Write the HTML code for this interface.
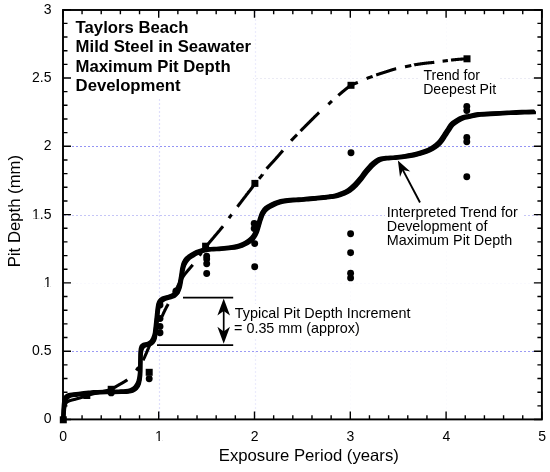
<!DOCTYPE html>
<html><head><meta charset="utf-8"><style>
html,body{margin:0;padding:0;background:#fff;}
svg{display:block;}
.tl{font-family:"Liberation Sans",Arial,sans-serif;font-size:14px;fill:#000;}
.al{font-family:"Liberation Sans",Arial,sans-serif;font-size:16.72px;fill:#000;}
.ti{font-family:"Liberation Sans",Arial,sans-serif;font-size:16.72px;font-weight:bold;fill:#000;}
.an{font-family:"Liberation Sans",Arial,sans-serif;font-size:14.1px;fill:#000;}
.an2{font-family:"Liberation Sans",Arial,sans-serif;font-size:14.1px;fill:#000;}
</style></head><body>
<svg width="550" height="472" viewBox="0 0 550 472">
<rect width="550" height="472" fill="#fff"/>
<line x1="64.0" y1="351.5" x2="540.9" y2="351.5" stroke="#7070f0" stroke-opacity="0.7" stroke-width="1.2" stroke-dasharray="2 2"/>
<line x1="64.0" y1="283.5" x2="540.9" y2="283.5" stroke="#8080ee" stroke-opacity="0.05" stroke-width="1.2" stroke-dasharray="2 2"/>
<line x1="64.0" y1="215.5" x2="540.9" y2="215.5" stroke="#8080ee" stroke-opacity="0.45" stroke-width="1.2" stroke-dasharray="2 2"/>
<line x1="64.0" y1="146.5" x2="540.9" y2="146.5" stroke="#7070f0" stroke-opacity="0.75" stroke-width="1.2" stroke-dasharray="2 2"/>
<line x1="64.0" y1="78.5" x2="540.9" y2="78.5" stroke="#9090c0" stroke-opacity="0.18" stroke-width="1.2" stroke-dasharray="2 2"/>
<line x1="159.5" y1="11.0" x2="159.5" y2="418.4" stroke="#8080ee" stroke-opacity="0.25" stroke-width="1.2" stroke-dasharray="2 2"/>
<line x1="255.5" y1="11.0" x2="255.5" y2="418.4" stroke="#8080ee" stroke-opacity="0.15" stroke-width="1.2" stroke-dasharray="2 2"/>
<line x1="350.5" y1="11.0" x2="350.5" y2="418.4" stroke="#8080ee" stroke-opacity="0.03" stroke-width="1.2" stroke-dasharray="2 2"/>
<line x1="446.5" y1="11.0" x2="446.5" y2="418.4" stroke="#8080ee" stroke-opacity="0.03" stroke-width="1.2" stroke-dasharray="2 2"/>
<rect x="72" y="14" width="181" height="83" fill="#fff"/>
<rect x="420" y="66" width="79" height="33" fill="#fff"/>
<rect x="385" y="204" width="137" height="46" fill="#fff"/>
<rect x="233" y="304" width="180" height="33" fill="#fff"/>
<path d="M63.0,419.50h8M541.9,419.50h-8M63.0,405.84h4.5M541.9,405.84h-4.5M63.0,392.18h4.5M541.9,392.18h-4.5M63.0,378.52h4.5M541.9,378.52h-4.5M63.0,364.86h4.5M541.9,364.86h-4.5M63.0,351.20h8M541.9,351.20h-8M63.0,337.54h4.5M541.9,337.54h-4.5M63.0,323.88h4.5M541.9,323.88h-4.5M63.0,310.22h4.5M541.9,310.22h-4.5M63.0,296.56h4.5M541.9,296.56h-4.5M63.0,282.90h8M541.9,282.90h-8M63.0,269.24h4.5M541.9,269.24h-4.5M63.0,255.58h4.5M541.9,255.58h-4.5M63.0,241.92h4.5M541.9,241.92h-4.5M63.0,228.26h4.5M541.9,228.26h-4.5M63.0,214.60h8M541.9,214.60h-8M63.0,200.94h4.5M541.9,200.94h-4.5M63.0,187.28h4.5M541.9,187.28h-4.5M63.0,173.62h4.5M541.9,173.62h-4.5M63.0,159.96h4.5M541.9,159.96h-4.5M63.0,146.30h8M541.9,146.30h-8M63.0,132.64h4.5M541.9,132.64h-4.5M63.0,118.98h4.5M541.9,118.98h-4.5M63.0,105.32h4.5M541.9,105.32h-4.5M63.0,91.66h4.5M541.9,91.66h-4.5M63.0,78.00h8M541.9,78.00h-8M63.0,64.34h4.5M541.9,64.34h-4.5M63.0,50.68h4.5M541.9,50.68h-4.5M63.0,37.02h4.5M541.9,37.02h-4.5M63.0,23.36h4.5M541.9,23.36h-4.5M63.0,9.70h8M541.9,9.70h-8M62.90,419.4v-7.8M62.90,10.0v7.8M82.06,419.4v-4.2M82.06,10.0v4.2M101.22,419.4v-4.2M101.22,10.0v4.2M120.38,419.4v-4.2M120.38,10.0v4.2M139.54,419.4v-4.2M139.54,10.0v4.2M158.70,419.4v-7.8M158.70,10.0v7.8M177.86,419.4v-4.2M177.86,10.0v4.2M197.02,419.4v-4.2M197.02,10.0v4.2M216.18,419.4v-4.2M216.18,10.0v4.2M235.34,419.4v-4.2M235.34,10.0v4.2M254.50,419.4v-7.8M254.50,10.0v7.8M273.66,419.4v-4.2M273.66,10.0v4.2M292.82,419.4v-4.2M292.82,10.0v4.2M311.98,419.4v-4.2M311.98,10.0v4.2M331.14,419.4v-4.2M331.14,10.0v4.2M350.30,419.4v-7.8M350.30,10.0v7.8M369.46,419.4v-4.2M369.46,10.0v4.2M388.62,419.4v-4.2M388.62,10.0v4.2M407.78,419.4v-4.2M407.78,10.0v4.2M426.94,419.4v-4.2M426.94,10.0v4.2M446.10,419.4v-7.8M446.10,10.0v7.8M465.26,419.4v-4.2M465.26,10.0v4.2M484.42,419.4v-4.2M484.42,10.0v4.2M503.58,419.4v-4.2M503.58,10.0v4.2M522.74,419.4v-4.2M522.74,10.0v4.2M541.90,419.4v-7.8M541.90,10.0v7.8" stroke="#000" stroke-width="1.4" fill="none"/>
<rect x="63.0" y="10.0" width="478.90" height="409.40" fill="none" stroke="#000" stroke-width="1.9"/>
<text x="51.5" y="423.40" text-anchor="end" class="tl">0</text>
<text x="51.5" y="355.10" text-anchor="end" class="tl">0.5</text>
<text x="51.5" y="286.80" text-anchor="end" class="tl">1</text>
<text x="51.5" y="218.50" text-anchor="end" class="tl">1.5</text>
<text x="51.5" y="150.20" text-anchor="end" class="tl">2</text>
<text x="51.5" y="81.90" text-anchor="end" class="tl">2.5</text>
<text x="51.5" y="13.60" text-anchor="end" class="tl">3</text>
<text x="63.10" y="440.9" text-anchor="middle" class="tl">0</text>
<text x="158.90" y="440.9" text-anchor="middle" class="tl">1</text>
<text x="254.70" y="440.9" text-anchor="middle" class="tl">2</text>
<text x="350.50" y="440.9" text-anchor="middle" class="tl">3</text>
<text x="446.30" y="440.9" text-anchor="middle" class="tl">4</text>
<text x="542.10" y="440.9" text-anchor="middle" class="tl">5</text>
<rect x="44.74" y="285.71" width="2.47" height="1.37" fill="#fff"/><rect x="48.50" y="285.71" width="2.36" height="1.37" fill="#fff"/>
<rect x="33.06" y="217.41" width="2.47" height="1.37" fill="#fff"/><rect x="36.82" y="217.41" width="2.36" height="1.37" fill="#fff"/>
<rect x="156.03" y="439.81" width="2.47" height="1.37" fill="#fff"/><rect x="159.79" y="439.81" width="2.36" height="1.37" fill="#fff"/>
<text x="308.8" y="461.3" text-anchor="middle" class="al">Exposure Period (years)</text>
<text transform="translate(19.5,211.1) rotate(-90)" text-anchor="middle" class="al">Pit Depth (mm)</text>
<text x="75.6" y="32.80" class="ti">Taylors Beach</text>
<text x="75.6" y="52.15" class="ti">Mild Steel in Seawater</text>
<text x="75.6" y="71.50" class="ti">Maximum Pit Depth</text>
<text x="75.6" y="90.85" class="ti">Development</text>
<text x="423.4" y="80.2" class="an">Trend for</text>
<text x="423.2" y="94.2" class="an">Deepest Pit</text>
<text transform="translate(386.8,217.1) scale(1.02,1)" class="an2">Interpreted Trend for</text>
<text transform="translate(386.8,231.1) scale(1.02,1)" class="an2">Development of</text>
<text transform="translate(386.8,245.1) scale(1.02,1)" class="an2">Maximum Pit Depth</text>
<text transform="translate(234.8,318.1) scale(1.02,1)" class="an2">Typical Pit Depth Increment</text>
<text transform="translate(234.0,333.1) scale(1.02,1)" class="an2">= 0.35 mm (approx)</text>
<path d="M63.30,419.60L63.31,419.52L63.32,419.43L63.33,419.33L63.34,419.23L63.35,419.12L63.36,419.01L63.37,418.89L63.38,418.76L63.40,418.63L63.41,418.50L63.42,418.36L63.44,418.21L63.45,418.06L63.47,417.91L63.48,417.76L63.50,417.60L63.51,417.43L63.53,417.26L63.55,417.10L63.56,416.92L63.58,416.75L63.60,416.57L63.61,416.39L63.63,416.21L63.65,416.02L63.67,415.84L63.69,415.65L63.71,415.46L63.72,415.27L63.74,415.08L63.76,414.89L63.78,414.70L63.80,414.51L63.82,414.32L63.84,414.12L63.86,413.93L63.88,413.74L63.90,413.55L63.92,413.37L63.94,413.18L63.96,412.99L63.98,412.81L64.00,412.63L64.01,412.44L64.03,412.27L64.05,412.09L64.07,411.92L64.09,411.75L64.11,411.58L64.13,411.42L64.15,411.26L64.16,411.10L64.18,410.95L64.20,410.80L64.22,410.65L64.23,410.51L64.25,410.38L64.27,410.25L64.28,410.12L64.30,410.00L64.32,409.88L64.33,409.77L64.35,409.66L64.36,409.55L64.38,409.44L64.39,409.34L64.41,409.23L64.42,409.13L64.44,409.04L64.45,408.94L64.46,408.84L64.48,408.75L64.49,408.66L64.51,408.57L64.52,408.48L64.53,408.40L64.55,408.31L64.56,408.23L64.58,408.15L64.59,408.07L64.60,407.99L64.62,407.92L64.63,407.84L64.64,407.77L64.66,407.69L64.67,407.62L64.68,407.55L64.70,407.48L64.71,407.41L64.72,407.34L64.74,407.28L64.75,407.21L64.77,407.15L64.78,407.08L64.79,407.02L64.81,406.95L64.82,406.89L64.84,406.83L64.85,406.77L64.87,406.71L64.88,406.65L64.90,406.59L64.91,406.53L64.93,406.47L64.94,406.41L64.96,406.35L64.97,406.29L64.99,406.23L65.01,406.17L65.02,406.11L65.04,406.05L65.06,405.99L65.07,405.93L65.09,405.87L65.11,405.81L65.13,405.75L65.14,405.69L65.16,405.63L65.18,405.56L65.20,405.50L65.22,405.44L65.24,405.37L65.26,405.31L65.27,405.25L65.29,405.19L65.31,405.13L65.33,405.07L65.35,405.01L65.36,404.95L65.38,404.89L65.40,404.83L65.42,404.77L65.43,404.71L65.45,404.65L65.47,404.60L65.49,404.54L65.50,404.48L65.52,404.43L65.54,404.37L65.56,404.31L65.57,404.26L65.59,404.21L65.61,404.15L65.63,404.10L65.65,404.04L65.67,403.99L65.68,403.94L65.70,403.88L65.72,403.83L65.74,403.78L65.76,403.73L65.78,403.68L65.81,403.63L65.83,403.58L65.85,403.53L65.87,403.48L65.89,403.43L65.92,403.38L65.94,403.33L65.97,403.29L65.99,403.24L66.02,403.19L66.04,403.14L66.07,403.10L66.10,403.05L66.13,403.00L66.15,402.96L66.18,402.91L66.21,402.87L66.25,402.83L66.28,402.78L66.31,402.74L66.34,402.69L66.38,402.65L66.41,402.61L66.45,402.57L66.48,402.52L66.52,402.48L66.56,402.44L66.60,402.40L66.64,402.36L66.68,402.32L66.72,402.28L66.77,402.24L66.81,402.20L66.85,402.17L66.90,402.13L66.94,402.09L66.99,402.05L67.03,402.02L67.08,401.98L67.13,401.95L67.17,401.91L67.22,401.88L67.27,401.85L67.32,401.81L67.37,401.78L67.42,401.75L67.47,401.72L67.53,401.69L67.58,401.65L67.63,401.62L67.69,401.59L67.74,401.56L67.79,401.53L67.85,401.50L67.90,401.47L67.96,401.44L68.02,401.42L68.07,401.39L68.13,401.36L68.19,401.33L68.25,401.30L68.31,401.28L68.37,401.25L68.43,401.22L68.49,401.19L68.55,401.17L68.61,401.14L68.67,401.11L68.74,401.09L68.80,401.06L68.86,401.04L68.93,401.01L68.99,400.98L69.06,400.96L69.12,400.93L69.19,400.91L69.25,400.88L69.32,400.86L69.38,400.83L69.45,400.80L69.52,400.78L69.59,400.75L69.65,400.73L69.72,400.70L69.79,400.68L69.86,400.65L69.93,400.63L70.00,400.60L70.07,400.57L70.14,400.55L70.21,400.52L70.29,400.50L70.36,400.47L70.44,400.45L70.51,400.43L70.59,400.40L70.66,400.38L70.74,400.36L70.82,400.33L70.90,400.31L70.98,400.29L71.06,400.26L71.14,400.24L71.22,400.22L71.30,400.20L71.38,400.18L71.47,400.15L71.55,400.13L71.63,400.11L71.72,400.09L71.80,400.07L71.88,400.05L71.97,400.03L72.06,400.01L72.14,399.99L72.23,399.97L72.31,399.95L72.40,399.93L72.49,399.90L72.57,399.88L72.66,399.86L72.75,399.84L72.84,399.82L72.92,399.80L73.01,399.78L73.10,399.76L73.19,399.74L73.27,399.72L73.36,399.70L73.45,399.68L73.54,399.66L73.62,399.64L73.71,399.62L73.80,399.60L73.89,399.58L73.97,399.56L74.06,399.54L74.15,399.52L74.23,399.50L74.32,399.47L74.41,399.45L74.49,399.43L74.58,399.41L74.66,399.39L74.75,399.37L74.83,399.34L74.92,399.32L75.00,399.30L75.08,399.28L75.17,399.25L75.25,399.23L75.34,399.21L75.42,399.19L75.50,399.16L75.59,399.14L75.67,399.12L75.76,399.09L75.84,399.07L75.93,399.05L76.02,399.02L76.10,399.00L76.19,398.98L76.27,398.95L76.36,398.93L76.45,398.91L76.53,398.88L76.62,398.86L76.70,398.84L76.79,398.81L76.88,398.79L76.96,398.77L77.05,398.74L77.13,398.72L77.22,398.69L77.31,398.67L77.39,398.65L77.48,398.62L77.56,398.60L77.65,398.58L77.73,398.55L77.82,398.53L77.90,398.51L77.99,398.48L78.07,398.46L78.16,398.43L78.24,398.41L78.32,398.39L78.41,398.36L78.49,398.34L78.57,398.32L78.66,398.29L78.74,398.27L78.82,398.25L78.90,398.22L78.98,398.20L79.06,398.18L79.14,398.15L79.22,398.13L79.30,398.11L79.38,398.08L79.46,398.06L79.54,398.04L79.62,398.01L79.70,397.99L79.77,397.97L79.85,397.95L79.92,397.92L80.00,397.90L80.07,397.88L80.15,397.86L80.22,397.83L80.30,397.81L80.37,397.79L80.45,397.77L80.52,397.74L80.59,397.72L80.67,397.70L80.74,397.68L80.81,397.65L80.88,397.63L80.96,397.61L81.03,397.59L81.10,397.56L81.17,397.54L81.24,397.52L81.31,397.50L81.38,397.47L81.45,397.45L81.52,397.43L81.59,397.41L81.66,397.39L81.73,397.36L81.80,397.34L81.87,397.32L81.93,397.30L82.00,397.28L82.07,397.25L82.14,397.23L82.20,397.21L82.27,397.19L82.34,397.17L82.40,397.14L82.47,397.12L82.53,397.10L82.60,397.08L82.66,397.06L82.73,397.04L82.79,397.01L82.86,396.99L82.92,396.97L82.98,396.95L83.05,396.93L83.11,396.91L83.17,396.89L83.23,396.87L83.29,396.85L83.35,396.82L83.41,396.80L83.47,396.78L83.53,396.76L83.59,396.74L83.65,396.72L83.71,396.70L83.77,396.68L83.83,396.66L83.89,396.64L83.94,396.62L84.00,396.60L84.06,396.58L84.11,396.56L84.16,396.54L84.21,396.52L84.26,396.50L84.30,396.49L84.35,396.47L84.39,396.45L84.43,396.43L84.47,396.42L84.51,396.40L84.55,396.38L84.59,396.37L84.62,396.35L84.66,396.33L84.69,396.32L84.73,396.30L84.76,396.29L84.79,396.27L84.82,396.26L84.85,396.24L84.89,396.22L84.92,396.21L84.95,396.19L84.98,396.18L85.01,396.16L85.04,396.15L85.07,396.13L85.10,396.12L85.14,396.10L85.17,396.08L85.20,396.07L85.24,396.05L85.27,396.04L85.31,396.02L85.35,396.00L85.39,395.99L85.43,395.97L85.47,395.95L85.51,395.93L85.56,395.92L85.60,395.90L85.65,395.88L85.70,395.86L85.75,395.84L85.80,395.82L85.86,395.80L85.91,395.78L85.97,395.76L86.03,395.74L86.10,395.72L86.17,395.70L86.23,395.67L86.31,395.65L86.38,395.63L86.46,395.60L86.54,395.58L86.62,395.55L86.71,395.53L86.80,395.50L86.89,395.47L86.99,395.45L87.00,395.44M87.00,395.44L87.09,395.42L87.19,395.39L87.29,395.36L87.40,395.33L87.51,395.30L87.62,395.27L87.74,395.24L87.86,395.21L87.98,395.17L88.10,395.14L88.22,395.11L88.35,395.07L88.47,395.04L88.60,395.01L88.74,394.97L88.87,394.94L89.00,394.90L89.14,394.87L89.28,394.83L89.42,394.80L89.56,394.76L89.70,394.72L89.84,394.69L89.99,394.65L90.13,394.61L90.28,394.57L90.43,394.54L90.57,394.50L90.72,394.46L90.87,394.42L91.02,394.39L91.17,394.35L91.32,394.31L91.48,394.27L91.63,394.24L91.78,394.20L91.93,394.16L92.08,394.12L92.23,394.08L92.38,394.05L92.54,394.01L92.69,393.97L92.84,393.93L92.99,393.90L93.14,393.86L93.29,393.82L93.43,393.79L93.58,393.75L93.73,393.71L93.88,393.68L94.02,393.64L94.16,393.61L94.31,393.57L94.45,393.54L94.59,393.50L94.73,393.47L94.86,393.43L95.00,393.40L95.13,393.37L95.27,393.33L95.40,393.30L95.54,393.27L95.67,393.24L95.81,393.20L95.94,393.17L96.08,393.14L96.21,393.11L96.34,393.08L96.48,393.04L96.61,393.01L96.75,392.98L96.88,392.95L97.01,392.92L97.15,392.89L97.28,392.86L97.41,392.82L97.55,392.79L97.68,392.76L97.81,392.73L97.95,392.70L98.08,392.67L98.21,392.64L98.35,392.61L98.48,392.58L98.61,392.55L98.75,392.52L98.88,392.49L99.01,392.46L99.15,392.43L99.28,392.39L99.41,392.36L99.54,392.33L99.68,392.30L99.81,392.27L99.94,392.24L100.08,392.21L100.21,392.18L100.34,392.15L100.47,392.12L100.61,392.09L100.74,392.05L100.87,392.02L101.00,391.99L101.14,391.96L101.27,391.93L101.40,391.90L101.54,391.86L101.67,391.83L101.80,391.80L101.93,391.77L102.07,391.73L102.20,391.70L102.33,391.67L102.47,391.63L102.60,391.60L102.73,391.57L102.87,391.53L103.00,391.50L103.13,391.47L103.27,391.43L103.40,391.40L103.53,391.37L103.67,391.33L103.80,391.30L103.93,391.27L104.07,391.24L104.20,391.21L104.33,391.18L104.47,391.15L104.60,391.12L104.73,391.09L104.87,391.06L105.00,391.02L105.13,390.99L105.27,390.96L105.40,390.93L105.53,390.90L105.67,390.87L105.80,390.84L105.93,390.81L106.07,390.78L106.20,390.75L106.33,390.72L106.47,390.69L106.60,390.66L106.73,390.63L106.87,390.59L107.00,390.56L107.13,390.53L107.27,390.50L107.40,390.46L107.53,390.43L107.67,390.39L107.80,390.36L107.93,390.32L108.07,390.29L108.20,390.25L108.33,390.21L108.47,390.18L108.60,390.14L108.73,390.10L108.87,390.06L109.00,390.02L109.13,389.98L109.27,389.94L109.40,389.89L109.53,389.85L109.67,389.80L109.80,389.76L109.93,389.71L110.07,389.66L110.20,389.61L110.33,389.56L110.47,389.51L110.60,389.46L110.73,389.41L110.87,389.36L111.00,389.30M111.00,389.30L111.13,389.24L111.27,389.19L111.40,389.13L111.53,389.07L111.67,389.01L111.80,388.95L111.93,388.88L112.06,388.82L112.20,388.75L112.33,388.69L112.46,388.62L112.60,388.56L112.73,388.49L112.86,388.42L112.99,388.35L113.13,388.28L113.26,388.21L113.39,388.13L113.52,388.06L113.66,387.99L113.79,387.91L113.92,387.84L114.05,387.77L114.19,387.69L114.32,387.61L114.45,387.54L114.58,387.46L114.72,387.38L114.85,387.30L114.98,387.23L115.11,387.15L115.25,387.07L115.38,386.99L115.51,386.91L115.65,386.83L115.78,386.75L115.91,386.67L116.04,386.58L116.18,386.50L116.31,386.42L116.44,386.34L116.58,386.26L116.71,386.18L116.85,386.10L116.98,386.01L117.11,385.93L117.25,385.85L117.38,385.77L117.51,385.69L117.65,385.61L117.78,385.52L117.92,385.44L118.05,385.36L118.19,385.28L118.32,385.20L118.46,385.12L118.59,385.04L118.73,384.96L118.86,384.88L119.00,384.80L119.14,384.72L119.27,384.64L119.41,384.56L119.55,384.48L119.69,384.40L119.83,384.32L119.97,384.24L120.12,384.16L120.26,384.08L120.40,384.00L120.55,383.92L120.69,383.84L120.84,383.75L120.98,383.67L121.13,383.59L121.27,383.51L121.42,383.43L121.57,383.34L121.71,383.26L121.86,383.18L122.01,383.09L122.15,383.01L122.30,382.93L122.45,382.85L122.59,382.76L122.74,382.68L122.89,382.60L123.03,382.51L123.18,382.43L123.32,382.34L123.47,382.26L123.61,382.18L123.76,382.09L123.90,382.01L124.05,381.92L124.19,381.84L124.33,381.75L124.47,381.67L124.61,381.58L124.75,381.50L124.89,381.42L125.03,381.33L125.17,381.25L125.30,381.16L125.44,381.08L125.57,380.99L125.70,380.91L125.83,380.82L125.96,380.74L126.09,380.65L126.22,380.57L126.35,380.48L126.47,380.40L126.59,380.31L126.72,380.23L126.84,380.14L126.95,380.06L127.07,379.97L127.19,379.89L127.30,379.80M136.20,370.44L136.21,370.43L136.29,370.32L136.37,370.22L136.45,370.12L136.54,370.01L136.62,369.90L136.70,369.80L136.79,369.69L136.87,369.58L136.95,369.46L137.04,369.35L137.13,369.24L137.21,369.12L137.30,369.00L137.39,368.88L137.48,368.76L137.56,368.64L137.65,368.52L137.74,368.40L137.83,368.28L137.92,368.16L138.01,368.04L138.10,367.92L138.19,367.80L138.28,367.68L138.37,367.56L138.46,367.44L138.55,367.31L138.60,367.24M143.00,360.30L143.10,360.10L143.21,359.90L143.31,359.70L143.41,359.49L143.52,359.28L143.62,359.07L143.73,358.85L143.83,358.64L143.94,358.42L144.04,358.19L144.15,357.97L144.26,357.74L144.36,357.51L144.47,357.28L144.58,357.05L144.69,356.81L144.80,356.57L144.90,356.33L145.01,356.09L145.12,355.85L145.23,355.60L145.34,355.36L145.45,355.11L145.56,354.86L145.67,354.61L145.78,354.35L145.89,354.10L146.00,353.85L146.11,353.59L146.22,353.33L146.34,353.07L146.45,352.81L146.56,352.55L146.67,352.29L146.78,352.03L146.90,351.77L147.01,351.50L147.12,351.24L147.23,350.97L147.34,350.71L147.46,350.44L147.57,350.18L147.68,349.91L147.80,349.64L147.91,349.38L148.02,349.11L148.13,348.84L148.25,348.58L148.36,348.31L148.47,348.04L148.59,347.78L148.70,347.51L148.81,347.24L148.92,346.98L149.04,346.71L149.15,346.45L149.26,346.19L149.37,345.92L149.49,345.66L149.60,345.40L149.71,345.14L149.83,344.88L149.94,344.61L150.05,344.35L150.16,344.09L150.28,343.82L150.39,343.55L150.50,343.29L150.62,343.02L150.73,342.75L150.84,342.48L150.96,342.21L151.07,341.94L151.18,341.67L151.30,341.40L151.41,341.13L151.52,340.86L151.64,340.58L151.75,340.31L151.87,340.04L151.98,339.76L152.10,339.49L152.21,339.21L152.32,338.94L152.44,338.66L152.55,338.39L152.67,338.11L152.78,337.83L152.90,337.56L153.01,337.28L153.13,337.00L153.24,336.73L153.36,336.45L153.47,336.17L153.59,335.90L153.70,335.62L153.82,335.34L153.94,335.06L154.05,334.78L154.17,334.51L154.28,334.23L154.40,333.95L154.51,333.68L154.63,333.40L154.75,333.12L154.86,332.84L154.98,332.57L155.00,332.52M162.00,316.52L162.08,316.33L162.20,316.08L162.31,315.82L162.43,315.57L162.54,315.32L162.65,315.08L162.76,314.83L162.87,314.59L162.98,314.36L163.09,314.12L163.19,313.89L163.30,313.67L163.40,313.45L163.50,313.23L163.60,313.01L163.70,312.80L163.80,312.59L163.89,312.39L163.98,312.20L164.07,312.00L164.16,311.82L164.25,311.63L164.33,311.46L164.41,311.28L164.49,311.11L164.57,310.95L164.65,310.78L164.73,310.62L164.80,310.47L164.88,310.32L164.95,310.17L165.02,310.02L165.09,309.88L165.16,309.74L165.23,309.60L165.30,309.46L165.36,309.32L165.43,309.19L165.49,309.06L165.56,308.93L165.62,308.80L165.69,308.67L165.75,308.55L165.82,308.42L165.88,308.30L165.94,308.18L166.01,308.05L166.07,307.93L166.13,307.80L166.20,307.68L166.26,307.56L166.33,307.43L166.39,307.31L166.46,307.18L166.53,307.06L166.59,306.93L166.66,306.80L166.73,306.67L166.80,306.54L166.87,306.41L166.94,306.27L167.01,306.13L167.09,305.99L167.16,305.85L167.24,305.71L167.32,305.56L167.40,305.41L167.48,305.26L167.56,305.10L167.65,304.94L167.74,304.78L167.82,304.61L167.92,304.44L168.01,304.26L168.10,304.08L168.20,303.90M176.00,289.58L176.01,289.57L176.13,289.33L176.26,289.09L176.39,288.86L176.51,288.62L176.64,288.38L176.77,288.14L176.89,287.89L177.02,287.65L177.15,287.41L177.27,287.16L177.40,286.92L177.53,286.68L177.65,286.43L177.78,286.18L177.91,285.94L178.04,285.69L178.16,285.45L178.29,285.20L178.42,284.95L178.55,284.71L178.68,284.46L178.81,284.21L178.94,283.96L179.07,283.72L179.20,283.47L179.33,283.23L179.46,282.98L179.59,282.73L179.72,282.49L179.85,282.24L179.98,282.00L180.11,281.75L180.24,281.51L180.37,281.27L180.51,281.03L180.64,280.79L180.77,280.54L180.91,280.31L181.04,280.07L181.18,279.83L181.31,279.59L181.45,279.36L181.58,279.12L181.72,278.89L181.86,278.66L182.00,278.43L182.13,278.20L182.27,277.97L182.41,277.74L182.55,277.52L182.69,277.29L182.83,277.07L182.97,276.85L183.11,276.63L183.26,276.42L183.40,276.20L183.54,275.99L183.69,275.77L183.84,275.56L183.98,275.35L184.13,275.15L184.28,274.94L184.43,274.73L184.58,274.53L184.74,274.32L184.89,274.12L185.04,273.92L185.20,273.72L185.35,273.52L185.51,273.32L185.67,273.12L185.82,272.93L185.98,272.73L186.14,272.54L186.30,272.34L186.46,272.15L186.62,271.96L186.78,271.76L186.94,271.57L187.10,271.38L187.26,271.19L187.42,271.01L187.58,270.82L187.75,270.63L187.91,270.44L188.07,270.26L188.23,270.07L188.39,269.89L188.55,269.70L188.71,269.52L188.87,269.33L189.04,269.15L189.20,268.97L189.36,268.78L189.51,268.60L189.67,268.42L189.83,268.24L189.99,268.06L190.15,267.87L190.31,267.69L190.46,267.51L190.62,267.33L190.77,267.15L190.93,266.97L191.08,266.79L191.23,266.61L191.38,266.43L191.53,266.25L191.68,266.07L191.83,265.89L191.98,265.71L192.13,265.52L192.27,265.34L192.42,265.16L192.56,264.98L192.70,264.80M199.40,255.64L199.49,255.52L199.60,255.35L199.72,255.19L199.84,255.03L199.95,254.87L200.07,254.71L200.18,254.56L200.30,254.40L200.41,254.24L200.53,254.09L200.64,253.94L200.75,253.79L200.86,253.64L200.97,253.49L201.07,253.34L201.18,253.19L201.28,253.05L201.39,252.91L201.40,252.89M205.40,247.42L205.46,247.34L205.57,247.19L205.68,247.05L205.79,246.90L205.91,246.76L206.02,246.61L206.14,246.46L206.26,246.31L206.38,246.15L206.50,246.00L206.62,245.84L206.75,245.69L206.87,245.53L207.00,245.37L207.13,245.21L207.26,245.05L207.39,244.89L207.52,244.73L207.66,244.56L207.79,244.40L207.92,244.23L208.06,244.07L208.20,243.90L208.34,243.73L208.47,243.56L208.61,243.39L208.76,243.22L208.90,243.05L209.04,242.88L209.18,242.71L209.32,242.54L209.47,242.37L209.61,242.19L209.76,242.02L209.90,241.85L210.05,241.67L210.20,241.50L210.34,241.32L210.49,241.15L210.64,240.97L210.79,240.80L210.93,240.62L211.08,240.45L211.23,240.27L211.38,240.10L211.53,239.92L211.67,239.75L211.82,239.57L211.97,239.40L212.12,239.22L212.27,239.05L212.41,238.87L212.56,238.70L212.71,238.52L212.86,238.35L213.00,238.18L213.15,238.00L213.30,237.83L213.44,237.66L213.59,237.49L213.73,237.31L213.87,237.14L214.02,236.97L214.16,236.80L214.30,236.63L214.44,236.47L214.58,236.30L214.72,236.13L214.86,235.97L215.00,235.80L215.14,235.64L215.27,235.47L215.41,235.31L215.55,235.14L215.69,234.98L215.82,234.82L215.96,234.65L216.10,234.49L216.23,234.33L216.37,234.17L216.51,234.01L216.64,233.84L216.78,233.68L216.92,233.52L217.05,233.36L217.19,233.20L217.33,233.04L217.46,232.88L217.60,232.72L217.73,232.56L217.87,232.40L218.00,232.24L218.14,232.09L218.27,231.93L218.41,231.77L218.54,231.61L218.68,231.45L218.81,231.29L218.95,231.13L219.08,230.97L219.22,230.82L219.35,230.66L219.48,230.50L219.62,230.34L219.75,230.18L219.88,230.03L220.01,229.87L220.15,229.71L220.28,229.55L220.41,229.39L220.54,229.23L220.67,229.08L220.81,228.92L220.94,228.76L221.07,228.60L221.20,228.44L221.33,228.28L221.46,228.12L221.59,227.96L221.72,227.80L221.85,227.65L221.98,227.49L222.11,227.33L222.23,227.17L222.36,227.01L222.49,226.84L222.62,226.68L222.75,226.52L222.87,226.36L223.00,226.20M228.90,218.17L229.01,218.02L229.13,217.86L229.25,217.70L229.36,217.54L229.48,217.37L229.60,217.21L229.72,217.05L229.84,216.89L229.96,216.72L230.08,216.56L230.20,216.40L230.32,216.24L230.44,216.08L230.56,215.92L230.68,215.76L230.80,215.59L230.92,215.43L231.04,215.27L231.16,215.11L231.28,214.95L231.40,214.79L231.51,214.63L231.60,214.52M237.40,206.80L237.52,206.64L237.65,206.47L237.77,206.31L237.90,206.14L238.02,205.98L238.15,205.81L238.27,205.64L238.40,205.48L238.53,205.31L238.65,205.14L238.78,204.97L238.91,204.81L239.03,204.64L239.16,204.47L239.29,204.30L239.42,204.13L239.55,203.96L239.68,203.79L239.80,203.62L239.93,203.45L240.06,203.28L240.19,203.11L240.32,202.94L240.45,202.77L240.58,202.60L240.71,202.43L240.84,202.26L240.97,202.09L241.10,201.92L241.22,201.75L241.35,201.58L241.48,201.41L241.61,201.24L241.74,201.07L241.87,200.90L242.00,200.73L242.13,200.56L242.26,200.40L242.38,200.23L242.51,200.06L242.64,199.89L242.77,199.72L242.89,199.56L243.02,199.39L243.15,199.23L243.27,199.06L243.40,198.89L243.52,198.73L243.65,198.57L243.78,198.40L243.90,198.24L244.02,198.08L244.15,197.91L244.27,197.75L244.39,197.59L244.52,197.43L244.64,197.27L244.76,197.11L244.88,196.96L245.00,196.80L245.12,196.64L245.24,196.49L245.36,196.33L245.48,196.17L245.61,196.01L245.73,195.85L245.85,195.69L245.97,195.53L246.10,195.37L246.22,195.21L246.34,195.05L246.47,194.89L246.59,194.73L246.72,194.57L246.84,194.41L246.96,194.25L247.09,194.09L247.21,193.93L247.34,193.77L247.46,193.61L247.58,193.46L247.71,193.30L247.83,193.14L247.95,192.98L248.07,192.83L248.19,192.67L248.31,192.51L248.44,192.36L248.56,192.20L248.68,192.05L248.79,191.90L248.91,191.74L249.03,191.59L249.15,191.44L249.26,191.29L249.38,191.15L249.49,191.00L249.61,190.85L249.72,190.71L249.83,190.56L249.94,190.42L250.05,190.28L250.16,190.14L250.27,190.00L250.37,189.86L250.48,189.73L250.58,189.59L250.68,189.46L250.78,189.33L250.88,189.20L250.98,189.07L251.08,188.94L251.18,188.82L251.27,188.70L251.36,188.58L251.45,188.46L251.54,188.34L251.63,188.22L251.72,188.11L251.80,188.00L251.88,187.89L251.96,187.79L252.04,187.69L252.11,187.59L252.18,187.49L252.25,187.40L252.31,187.31L252.37,187.23L252.43,187.15L252.49,187.07L252.55,186.99L252.60,186.91L252.65,186.84L252.70,186.77L252.75,186.70L252.80,186.63L252.84,186.57L252.89,186.50L252.93,186.44L252.97,186.38L253.01,186.32L253.05,186.26L253.09,186.20L253.13,186.14L253.17,186.09L253.21,186.03L253.25,185.98L253.28,185.92L253.32,185.87L253.36,185.81L253.39,185.76L253.43,185.70L253.47,185.65L253.51,185.59L253.54,185.54L253.58,185.48L253.62,185.42L253.66,185.36L253.71,185.30L253.75,185.24L253.79,185.18L253.84,185.12L253.88,185.05L253.93,184.99L253.98,184.92L254.03,184.85L254.09,184.78L254.14,184.70L254.20,184.63L254.26,184.55L254.32,184.47L254.39,184.38L254.45,184.30L254.52,184.21L254.59,184.11L254.67,184.02L254.75,183.92L254.83,183.82L254.90,183.73M259.00,178.83L259.12,178.69L259.26,178.52L259.40,178.36L259.54,178.19L259.68,178.03L259.82,177.86L259.96,177.70L260.09,177.53L260.23,177.37L260.36,177.21L260.50,177.05L260.63,176.89L260.76,176.73L260.89,176.58L261.02,176.42L261.15,176.27L261.27,176.12L261.40,175.97L261.52,175.82L261.64,175.68L261.75,175.53L261.87,175.39L261.98,175.25L262.09,175.12L262.20,174.98L262.30,174.85L262.40,174.72L262.50,174.60L262.60,174.48L262.60,174.47M266.60,168.80L266.71,168.67L266.81,168.54L266.92,168.41L267.04,168.28L267.15,168.15L267.27,168.01L267.39,167.87L267.51,167.73L267.63,167.59L267.76,167.45L267.88,167.30L268.01,167.16L268.14,167.01L268.28,166.86L268.41,166.71L268.54,166.56L268.68,166.41L268.82,166.26L268.96,166.10L269.10,165.95L269.24,165.79L269.39,165.63L269.53,165.48L269.67,165.32L269.82,165.16L269.97,165.00L270.12,164.84L270.26,164.67L270.41,164.51L270.56,164.35L270.71,164.19L270.86,164.02L271.01,163.86L271.17,163.70L271.32,163.53L271.47,163.37L271.62,163.20L271.77,163.04L271.93,162.87L272.08,162.71L272.23,162.54L272.38,162.38L272.53,162.21L272.68,162.05L272.83,161.89L272.98,161.72L273.13,161.56L273.28,161.40L273.43,161.23L273.58,161.07L273.73,160.91L273.87,160.75L274.02,160.59L274.16,160.43L274.30,160.28L274.45,160.12L274.59,159.96L274.73,159.81L274.86,159.65L275.00,159.50L275.14,159.35L275.27,159.20L275.41,159.04L275.54,158.89L275.67,158.74L275.81,158.59L275.94,158.44L276.08,158.29L276.21,158.14L276.34,157.99L276.47,157.84L276.61,157.69L276.74,157.54L276.87,157.39L277.00,157.25L277.13,157.10L277.27,156.95L277.40,156.80L277.53,156.65L277.66,156.50L277.79,156.36L277.92,156.21L278.05,156.06L278.18,155.91L278.31,155.76L278.44,155.62L278.57,155.47L278.70,155.32L278.83,155.17L278.96,155.02L279.09,154.88L279.22,154.73L279.35,154.58L279.48,154.43L279.61,154.28L279.74,154.14L279.87,153.99L280.00,153.84L280.13,153.69L280.26,153.54L280.39,153.39L280.52,153.24L280.65,153.09L280.78,152.94L280.92,152.79L281.05,152.64L281.18,152.49L281.31,152.34L281.44,152.19L281.57,152.04L281.70,151.89L281.84,151.73L281.97,151.58L282.10,151.43L282.23,151.27L282.37,151.12L282.50,150.97L282.63,150.81L282.77,150.66L282.90,150.50M291.10,140.80L291.22,140.67L291.33,140.54L291.45,140.41L291.57,140.28L291.68,140.15L291.79,140.03L291.91,139.90L292.02,139.78L292.13,139.66L292.24,139.53L292.36,139.41L292.47,139.29L292.58,139.18L292.68,139.06L292.79,138.94L292.90,138.83L293.01,138.71L293.11,138.60L293.22,138.49L293.33,138.38L293.43,138.27L293.53,138.16L293.64,138.05L293.74,137.94L293.84,137.84L293.94,137.73L294.05,137.63L294.15,137.52L294.24,137.42L294.34,137.32L294.44,137.22L294.54,137.12L294.64,137.02L294.73,136.92L294.83,136.82L294.92,136.72L295.02,136.63L295.11,136.53L295.20,136.44L295.30,136.34L295.39,136.25L295.48,136.16L295.57,136.07L295.66,135.98L295.75,135.89L295.84,135.80L295.92,135.71L296.01,135.62L296.10,135.53L296.18,135.44L296.27,135.36L296.35,135.27L296.43,135.18L296.52,135.10L296.60,135.01L296.68,134.93L296.76,134.85L296.84,134.76L296.92,134.68L297.00,134.60M300.50,131.00L300.61,130.89L300.72,130.77L300.84,130.66L300.96,130.54L301.08,130.41L301.21,130.29L301.34,130.16L301.47,130.02L301.60,129.89L301.74,129.75L301.88,129.61L302.02,129.47L302.17,129.32L302.31,129.18L302.46,129.03L302.61,128.88L302.77,128.72L302.92,128.57L303.08,128.41L303.24,128.25L303.40,128.09L303.56,127.93L303.72,127.77L303.89,127.60L304.05,127.43L304.22,127.27L304.39,127.10L304.56,126.93L304.73,126.76L304.90,126.59L305.07,126.42L305.24,126.24L305.42,126.07L305.59,125.90L305.77,125.72L305.94,125.55L306.12,125.37L306.29,125.20L306.47,125.02L306.64,124.85L306.82,124.67L306.99,124.50L307.16,124.33L307.34,124.15L307.51,123.98L307.69,123.81L307.86,123.63L308.03,123.46L308.20,123.29L308.37,123.12L308.54,122.95L308.71,122.79L308.87,122.62L309.04,122.46L309.20,122.29L309.37,122.13L309.53,121.97L309.69,121.81L309.84,121.66L310.00,121.50L310.15,121.35L310.31,121.19L310.46,121.04L310.62,120.88L310.77,120.73L310.93,120.58L311.08,120.42L311.23,120.27L311.38,120.12L311.54,119.96L311.69,119.81L311.84,119.66L311.99,119.50L312.15,119.35L312.30,119.20L312.45,119.04L312.60,118.89L312.75,118.74L312.90,118.59L313.06,118.43L313.21,118.28L313.36,118.13L313.51,117.98L313.66,117.83L313.81,117.67L313.96,117.52L314.11,117.37L314.26,117.22L314.41,117.07L314.56,116.92L314.71,116.77L314.86,116.62L315.01,116.47L315.16,116.32L315.31,116.17L315.46,116.02L315.62,115.87L315.77,115.72L315.92,115.57L316.07,115.42L316.22,115.27L316.37,115.13L316.52,114.98L316.67,114.83L316.82,114.68L316.97,114.53L317.12,114.39L317.27,114.24L317.42,114.09L317.58,113.95L317.73,113.80L317.88,113.66L318.03,113.51L318.18,113.37L318.34,113.22L318.49,113.08L318.64,112.93L318.79,112.79L318.95,112.64L319.10,112.50M328.40,104.30L328.50,104.21L328.61,104.12L328.70,104.03L328.79,103.94L328.88,103.86L328.97,103.78L329.05,103.71L329.13,103.64L329.21,103.57L329.28,103.50L329.35,103.43L329.42,103.37L329.48,103.31L329.54,103.25L329.60,103.19L329.66,103.14L329.72,103.09L329.77,103.03L329.82,102.99L329.87,102.94L329.92,102.89L329.97,102.84L330.01,102.80L330.05,102.76L330.10,102.71L330.14,102.67L330.18,102.63L330.22,102.59L330.26,102.55L330.30,102.51L330.34,102.47L330.38,102.43L330.42,102.40L330.46,102.36L330.49,102.32L330.53,102.28L330.57,102.24L330.61,102.20L330.65,102.16L330.70,102.12L330.74,102.08L330.78,102.03L330.83,101.99L330.87,101.95L330.92,101.90L330.97,101.85L331.02,101.80L331.08,101.75L331.13,101.70L331.19,101.65L331.25,101.59L331.31,101.54L331.37,101.48L331.44,101.42L331.51,101.35L331.58,101.29L331.66,101.22L331.73,101.15L331.82,101.08L331.90,101.00M338.30,95.43L338.35,95.38L338.47,95.29L338.58,95.19L338.69,95.09L338.80,95.00L338.91,94.91L339.02,94.81L339.13,94.72L339.23,94.63L339.34,94.54L339.45,94.44L339.56,94.35L339.66,94.26L339.77,94.17L339.88,94.08L339.98,93.99L340.09,93.90L340.19,93.81L340.30,93.72L340.40,93.63L340.51,93.54L340.61,93.45L340.72,93.36L340.82,93.27L340.93,93.18L341.03,93.09L341.13,93.00L341.24,92.92L341.34,92.83L341.44,92.74L341.55,92.65L341.65,92.57L341.75,92.48L341.85,92.39L341.96,92.31L342.06,92.22L342.16,92.13L342.26,92.05L342.36,91.96L342.47,91.88L342.57,91.79L342.67,91.71L342.77,91.62L342.87,91.54L342.97,91.45L343.08,91.37L343.18,91.28L343.28,91.20L343.38,91.12L343.48,91.03L343.58,90.95L343.68,90.87L343.78,90.78L343.89,90.70L343.99,90.62L344.09,90.53L344.19,90.45L344.29,90.37L344.39,90.29L344.49,90.21L344.59,90.12L344.70,90.04L344.80,89.96L344.90,89.88L345.00,89.80L345.10,89.72L345.20,89.64L345.30,89.56L345.40,89.48L345.50,89.40L345.60,89.31L345.70,89.23L345.80,89.15L345.90,89.07L346.00,88.99L346.10,88.91L346.20,88.83L346.29,88.75L346.39,88.67L346.49,88.59L346.59,88.51L346.69,88.43L346.78,88.35L346.88,88.27L346.98,88.19L347.07,88.11L347.17,88.03L347.27,87.96L347.37,87.88L347.46,87.80L347.56,87.72L347.66,87.64L347.76,87.57L347.85,87.49L347.95,87.41L348.05,87.34L348.15,87.26L348.24,87.18L348.34,87.11L348.44,87.03L348.54,86.96L348.64,86.88L348.73,86.81L348.83,86.74L348.93,86.66L349.03,86.59L349.13,86.52L349.23,86.45L349.33,86.37L349.43,86.30L349.54,86.23L349.64,86.16L349.74,86.09L349.84,86.02L349.94,85.96L350.05,85.89L350.15,85.82L350.26,85.75L350.36,85.69L350.47,85.62L350.57,85.55L350.68,85.49L350.78,85.43L350.89,85.36L351.00,85.30L351.11,85.24L351.22,85.18L351.33,85.12L351.43,85.06L351.54,85.00L351.65,84.94L351.76,84.89L351.87,84.83L351.98,84.78L352.09,84.72L352.20,84.67L352.31,84.62L352.42,84.56L352.53,84.51L352.64,84.46L352.75,84.41L352.86,84.36L352.98,84.31L353.09,84.27L353.20,84.22L353.31,84.17L353.43,84.12L353.54,84.08L353.65,84.03L353.76,83.98L353.88,83.94L353.99,83.89L354.11,83.85L354.22,83.80L354.34,83.76L354.45,83.71L354.57,83.67L354.69,83.62L354.80,83.58L354.92,83.53L355.04,83.49L355.15,83.44L355.27,83.39L355.39,83.35L355.51,83.30L355.63,83.26L355.75,83.21L355.87,83.17L355.99,83.12L356.11,83.07L356.24,83.02L356.36,82.98L356.48,82.93L356.61,82.88L356.73,82.83L356.85,82.78L356.98,82.73L357.10,82.68L357.23,82.63L357.36,82.57L357.48,82.52L357.61,82.47L357.74,82.41L357.80,82.39M366.60,78.50L366.72,78.45L366.84,78.40L366.96,78.36L367.08,78.31L367.20,78.26L367.32,78.22L367.43,78.17L367.55,78.13L367.66,78.09L367.78,78.04L367.89,78.00L368.00,77.96L368.11,77.92L368.22,77.88L368.33,77.84L368.44,77.80L368.55,77.76L368.66,77.73L368.77,77.69L368.87,77.65L368.98,77.62L369.08,77.58L369.19,77.54L369.29,77.51L369.40,77.47L369.50,77.44L369.60,77.41L369.70,77.37L369.80,77.34L369.90,77.31L370.00,77.27L370.10,77.24L370.19,77.21L370.29,77.18L370.39,77.15L370.48,77.12L370.58,77.08L370.67,77.05L370.77,77.02L370.86,76.99L370.95,76.96L371.04,76.93L371.13,76.90L371.23,76.87L371.32,76.84L371.41,76.81L371.49,76.78L371.58,76.75L371.67,76.72L371.76,76.70L371.84,76.67L371.93,76.64L372.02,76.61L372.10,76.58L372.19,76.55L372.27,76.52L372.35,76.49L372.44,76.46L372.52,76.43L372.60,76.40M376.20,74.97L376.29,74.94L376.40,74.90L376.51,74.86L376.63,74.82L376.75,74.78L376.87,74.74L377.00,74.70L377.13,74.65L377.26,74.61L377.39,74.56L377.53,74.52L377.67,74.47L377.81,74.43L377.96,74.38L378.11,74.33L378.25,74.28L378.41,74.23L378.56,74.18L378.72,74.13L378.87,74.08L379.03,74.03L379.19,73.97L379.36,73.92L379.52,73.87L379.68,73.81L379.85,73.76L380.02,73.71L380.19,73.65L380.36,73.60L380.53,73.54L380.70,73.49L380.88,73.43L381.05,73.38L381.22,73.32L381.40,73.26L381.57,73.21L381.75,73.15L381.92,73.10L382.10,73.04L382.28,72.98L382.45,72.93L382.63,72.87L382.81,72.81L382.98,72.76L383.16,72.70L383.33,72.65L383.51,72.59L383.68,72.54L383.85,72.48L384.03,72.43L384.20,72.37L384.37,72.32L384.54,72.26L384.71,72.21L384.87,72.16L385.04,72.11L385.20,72.05L385.37,72.00L385.53,71.95L385.69,71.90L385.84,71.85L386.00,71.80L386.15,71.75L386.31,71.70L386.46,71.65L386.62,71.60L386.77,71.55L386.92,71.51L387.07,71.46L387.22,71.41L387.37,71.36L387.52,71.31L387.67,71.26L387.82,71.21L387.97,71.16L388.12,71.11L388.27,71.06L388.42,71.02L388.56,70.97L388.71,70.92L388.86,70.87L389.01,70.82L389.15,70.77L389.30,70.73L389.45,70.68L389.60,70.63L389.74,70.58L389.89,70.53L390.04,70.49L390.18,70.44L390.33,70.39L390.48,70.34L390.62,70.30L390.77,70.25L390.92,70.20L391.06,70.16L391.21,70.11L391.36,70.06L391.50,70.02L391.65,69.97L391.80,69.92L391.95,69.88L392.10,69.83L392.25,69.79L392.39,69.74L392.54,69.70L392.69,69.65L392.84,69.61L392.99,69.56L393.15,69.52L393.30,69.47L393.45,69.43L393.60,69.38L393.75,69.34L393.91,69.30L394.06,69.25L394.22,69.21L394.37,69.17L394.53,69.13L394.68,69.08L394.84,69.04L395.00,69.00L395.16,68.96L395.32,68.92L395.48,68.88L395.65,68.83L395.81,68.79L395.98,68.75L396.14,68.71L396.20,68.70M405.00,66.80L405.14,66.77L405.27,66.74L405.40,66.71L405.53,66.69L405.67,66.66L405.80,66.63L405.93,66.60L406.05,66.58L406.18,66.55L406.31,66.52L406.43,66.50L406.55,66.47L406.68,66.45L406.80,66.42L406.92,66.40L407.04,66.37L407.16,66.35L407.28,66.32L407.39,66.30L407.51,66.27L407.62,66.25L407.74,66.23L407.85,66.20L407.96,66.18L408.07,66.16L408.18,66.14L408.29,66.11L408.39,66.09L408.50,66.07L408.61,66.05L408.71,66.03L408.81,66.01L408.92,65.99L409.02,65.97L409.12,65.95L409.22,65.93L409.32,65.91L409.41,65.89L409.51,65.87L409.60,65.85L409.70,65.83L409.79,65.81L409.88,65.79L409.97,65.77L410.06,65.75L410.15,65.74L410.24,65.72L410.33,65.70L410.42,65.68L410.50,65.67L410.59,65.65L410.67,65.63L410.75,65.61L410.83,65.60L410.91,65.58L410.99,65.56L411.07,65.55L411.15,65.53L411.22,65.52L411.30,65.50M414.20,64.87L414.22,64.86L414.33,64.84L414.45,64.83L414.58,64.81L414.70,64.78L414.83,64.76L414.97,64.74L415.10,64.72L415.24,64.70L415.38,64.67L415.53,64.65L415.68,64.63L415.83,64.60L415.98,64.58L416.14,64.55L416.29,64.53L416.45,64.50L416.62,64.48L416.78,64.45L416.95,64.43L417.12,64.40L417.29,64.37L417.46,64.35L417.63,64.32L417.81,64.29L417.99,64.26L418.16,64.24L418.34,64.21L418.52,64.18L418.71,64.15L418.89,64.13L419.07,64.10L419.26,64.07L419.44,64.04L419.63,64.01L419.81,63.99L420.00,63.96L420.19,63.93L420.37,63.90L420.56,63.88L420.75,63.85L420.93,63.82L421.12,63.79L421.31,63.77L421.49,63.74L421.68,63.71L421.86,63.69L422.05,63.66L422.23,63.64L422.41,63.61L422.60,63.59L422.78,63.56L422.96,63.54L423.13,63.51L423.31,63.49L423.48,63.47L423.66,63.44L423.83,63.42L424.00,63.40L424.17,63.38L424.34,63.36L424.51,63.34L424.68,63.32L424.85,63.29L425.03,63.27L425.20,63.25L425.37,63.23L425.55,63.21L425.72,63.19L425.90,63.17L426.07,63.15L426.25,63.14L426.42,63.12L426.60,63.10L426.78,63.08L426.95,63.06L427.13,63.04L427.31,63.02L427.49,63.00L427.66,62.99L427.84,62.97L428.02,62.95L428.19,62.93L428.37,62.91L428.55,62.90L428.73,62.88L428.90,62.86L429.08,62.84L429.26,62.82L429.43,62.81L429.61,62.79L429.78,62.77L429.96,62.76L430.13,62.74L430.31,62.72L430.48,62.70L430.66,62.69L430.83,62.67L431.00,62.65L431.18,62.63L431.35,62.62L431.52,62.60L431.69,62.58L431.86,62.57L432.03,62.55L432.20,62.53L432.36,62.51L432.53,62.50L432.70,62.48L432.86,62.46L433.02,62.44L433.19,62.43L433.35,62.41L433.51,62.39L433.67,62.37L433.83,62.35L433.99,62.34L434.14,62.32L434.30,62.30M442.60,61.20L442.71,61.19L442.82,61.17L442.94,61.16L443.05,61.14L443.15,61.13L443.26,61.11L443.37,61.10L443.47,61.08L443.58,61.07L443.68,61.06L443.79,61.04L443.89,61.03L443.99,61.02L444.09,61.00L444.19,60.99L444.29,60.98L444.38,60.96L444.48,60.95L444.58,60.94L444.67,60.93L444.76,60.91L444.86,60.90L444.95,60.89L445.04,60.88L445.13,60.86L445.22,60.85L445.31,60.84L445.40,60.83L445.49,60.82L445.57,60.81L445.66,60.79L445.75,60.78L445.83,60.77L445.92,60.76L446.00,60.75L446.08,60.74L446.16,60.73L446.25,60.72L446.33,60.71L446.41,60.70L446.49,60.69L446.57,60.68L446.64,60.66L446.72,60.65L446.80,60.64L446.88,60.63L446.95,60.62L447.03,60.61L447.10,60.60L447.18,60.59L447.25,60.58L447.33,60.58L447.40,60.57L447.47,60.56L447.54,60.55L447.62,60.54L447.69,60.53L447.76,60.52L447.83,60.51L447.90,60.50M451.00,60.10L451.09,60.09L451.19,60.08L451.29,60.07L451.39,60.06L451.50,60.05L451.60,60.03L451.71,60.02L451.82,60.01L451.93,60.00L452.05,59.99L452.17,59.97L452.29,59.96L452.41,59.95L452.53,59.93L452.66,59.92L452.78,59.91L452.91,59.89L453.04,59.88L453.17,59.87L453.30,59.85L453.44,59.84L453.57,59.82L453.71,59.81L453.85,59.79L453.99,59.78L454.13,59.77L454.27,59.75L454.41,59.74L454.55,59.72L454.69,59.71L454.84,59.69L454.98,59.68L455.13,59.66L455.27,59.65L455.42,59.63L455.56,59.62L455.71,59.60L455.86,59.59L456.00,59.57L456.15,59.56L456.30,59.54L456.45,59.53L456.59,59.52L456.74,59.50L456.89,59.49L457.03,59.47L457.18,59.46L457.32,59.45L457.47,59.43L457.61,59.42L457.75,59.41L457.90,59.39L458.04,59.38L458.18,59.37L458.32,59.36L458.46,59.35L458.59,59.33L458.73,59.32L458.87,59.31L459.00,59.30L459.13,59.29L459.27,59.28L459.41,59.27L459.55,59.26L459.69,59.25L459.84,59.24L459.98,59.23L460.13,59.21L460.28,59.20L460.43,59.19L460.58,59.18L460.73,59.17L460.88,59.16L461.03,59.15L461.19,59.14L461.34,59.13L461.50,59.12L461.65,59.11L461.81,59.10L461.96,59.09L462.12,59.08L462.27,59.07L462.43,59.06L462.58,59.05L462.74,59.05L462.89,59.04L463.05,59.03L463.20,59.02L463.35,59.01L463.50,59.00L463.65,58.99L463.80,58.98L463.94,58.97L464.09,58.97L464.23,58.96L464.38,58.95L464.52,58.94L464.65,58.93L464.79,58.93L464.93,58.92L465.06,58.91L465.19,58.90L465.32,58.90L465.44,58.89L465.56,58.88L465.68,58.88L465.80,58.87L465.91,58.86L466.02,58.86L466.13,58.85L466.23,58.85L466.33,58.84L466.43,58.83L466.52,58.83L466.61,58.82L466.70,58.82L466.78,58.81L466.86,58.81L466.93,58.80L467.00,58.80" fill="none" stroke="#000" stroke-width="3.1" stroke-linejoin="round"/>
<clipPath id="ctc"><rect x="0" y="0" width="535.8" height="472"/></clipPath><g clip-path="url(#ctc)">
<path id="tc" d="M63.30,419.60C63.35,418.33 63.45,414.60 63.60,412.00C63.75,409.40 63.93,406.08 64.20,404.00C64.47,401.92 64.73,400.70 65.20,399.50C65.67,398.30 66.20,397.52 67.00,396.80C67.80,396.08 68.67,395.57 70.00,395.20C71.33,394.83 73.33,394.80 75.00,394.60C76.67,394.40 78.33,394.20 80.00,394.00C81.67,393.80 83.33,393.58 85.00,393.40C86.67,393.22 88.33,393.07 90.00,392.90C91.67,392.73 92.50,392.55 95.00,392.40C97.50,392.25 100.83,392.12 105.00,392.00C109.17,391.88 116.33,391.80 120.00,391.70C123.67,391.60 125.08,391.62 127.00,391.40C128.92,391.18 130.05,391.00 131.50,390.40C132.95,389.80 134.50,389.12 135.70,387.80C136.90,386.48 137.97,384.80 138.70,382.50C139.43,380.20 139.82,377.42 140.10,374.00C140.38,370.58 140.30,365.58 140.40,362.00C140.50,358.42 140.47,354.95 140.70,352.50C140.93,350.05 141.15,348.53 141.80,347.30C142.45,346.07 143.40,345.63 144.60,345.10C145.80,344.57 147.70,344.68 149.00,344.10C150.30,343.52 151.47,342.78 152.40,341.60C153.33,340.42 154.02,339.43 154.60,337.00C155.18,334.57 155.50,330.38 155.90,327.00C156.30,323.62 156.62,320.07 157.00,316.70C157.38,313.33 157.72,309.25 158.20,306.80C158.68,304.35 159.00,303.33 159.90,302.00C160.80,300.67 161.95,299.65 163.60,298.80C165.25,297.95 168.13,297.45 169.80,296.90C171.47,296.35 172.43,296.25 173.60,295.50C174.77,294.75 175.83,293.85 176.80,292.40C177.77,290.95 178.68,289.15 179.40,286.80C180.12,284.45 180.58,281.20 181.10,278.30C181.62,275.40 182.02,271.80 182.50,269.40C182.98,267.00 183.25,265.62 184.00,263.90C184.75,262.18 185.70,260.50 187.00,259.10C188.30,257.70 190.03,256.63 191.80,255.50C193.57,254.37 195.63,253.18 197.60,252.30C199.57,251.42 201.53,250.70 203.60,250.20C205.67,249.70 207.27,249.55 210.00,249.30C212.73,249.05 216.67,248.95 220.00,248.70C223.33,248.45 227.33,248.10 230.00,247.80C232.67,247.50 234.17,247.30 236.00,246.90C237.83,246.50 239.25,246.07 241.00,245.40C242.75,244.73 244.87,243.82 246.50,242.90C248.13,241.98 249.57,240.98 250.80,239.90C252.03,238.82 252.95,237.80 253.90,236.40C254.85,235.00 255.73,233.37 256.50,231.50C257.27,229.63 257.83,227.35 258.50,225.20C259.17,223.05 259.80,220.63 260.50,218.60C261.20,216.57 261.72,214.70 262.70,213.00C263.68,211.30 264.73,209.77 266.40,208.40C268.07,207.03 270.63,205.82 272.70,204.80C274.77,203.78 276.75,202.95 278.80,202.30C280.85,201.65 282.30,201.30 285.00,200.90C287.70,200.50 291.67,200.17 295.00,199.90C298.33,199.63 301.50,199.57 305.00,199.30C308.50,199.03 312.67,198.62 316.00,198.30C319.33,197.98 322.67,197.65 325.00,197.40C327.33,197.15 328.10,197.08 330.00,196.80C331.90,196.52 334.28,196.23 336.40,195.70C338.52,195.17 340.58,194.48 342.70,193.60C344.82,192.72 346.98,191.85 349.10,190.40C351.22,188.95 353.50,186.78 355.40,184.90C357.30,183.02 358.90,181.08 360.50,179.10C362.10,177.12 363.62,174.77 365.00,173.00C366.38,171.23 367.42,170.02 368.80,168.50C370.18,166.98 371.50,165.40 373.30,163.90C375.10,162.40 377.27,160.47 379.60,159.50C381.93,158.53 384.53,158.43 387.30,158.10C390.07,157.77 393.02,157.82 396.20,157.50C399.38,157.18 403.65,156.60 406.40,156.20C409.15,155.80 410.58,155.53 412.70,155.10C414.82,154.67 416.98,154.20 419.10,153.60C421.22,153.00 423.28,152.33 425.40,151.50C427.52,150.67 429.88,149.65 431.80,148.60C433.72,147.55 435.42,146.42 436.90,145.20C438.38,143.98 439.43,142.88 440.70,141.30C441.97,139.72 443.23,137.62 444.50,135.70C445.77,133.78 447.02,131.70 448.30,129.80C449.58,127.90 450.70,125.83 452.20,124.30C453.70,122.77 455.40,121.72 457.30,120.60C459.20,119.48 461.48,118.33 463.60,117.60C465.72,116.87 467.35,116.73 470.00,116.20C472.65,115.67 475.48,114.83 479.50,114.40C483.52,113.97 489.25,113.87 494.10,113.60C498.95,113.33 503.75,113.05 508.60,112.80C513.45,112.55 518.67,112.27 523.20,112.10C527.73,111.93 533.70,111.85 535.80,111.80" fill="none" stroke="#000" stroke-width="1.7" stroke-linejoin="round" stroke-linecap="butt"/>
<use href="#tc" transform="translate(-1.450,-1.450)"/>
<use href="#tc" transform="translate(-0.967,-0.967)"/>
<use href="#tc" transform="translate(-0.483,-0.483)"/>
<use href="#tc" transform="translate(0.483,0.483)"/>
<use href="#tc" transform="translate(0.967,0.967)"/>
<use href="#tc" transform="translate(1.450,1.450)"/>
</g>
<rect x="59.80" y="416.30" width="7" height="7" fill="#000"/>
<rect x="83.30" y="392.00" width="7" height="7" fill="#000"/>
<rect x="107.70" y="385.80" width="7" height="7" fill="#000"/>
<rect x="145.70" y="368.80" width="7" height="7" fill="#000"/>
<rect x="202.10" y="242.70" width="7" height="7" fill="#000"/>
<rect x="251.40" y="179.90" width="7" height="7" fill="#000"/>
<rect x="347.50" y="81.80" width="7" height="7" fill="#000"/>
<rect x="463.50" y="55.30" width="7" height="7" fill="#000"/>
<circle cx="111.2" cy="392.9" r="3.45" fill="#000"/>
<circle cx="149.2" cy="378.8" r="3.45" fill="#000"/>
<circle cx="160" cy="305" r="3.45" fill="#000"/>
<circle cx="160" cy="318.5" r="3.45" fill="#000"/>
<circle cx="160" cy="326.4" r="3.45" fill="#000"/>
<circle cx="160" cy="332.7" r="3.45" fill="#000"/>
<circle cx="176.2" cy="291.3" r="3.8" fill="#000"/>
<circle cx="206.7" cy="256.1" r="3.45" fill="#000"/>
<circle cx="206.7" cy="259" r="3.45" fill="#000"/>
<circle cx="206.7" cy="263.7" r="3.45" fill="#000"/>
<circle cx="206.7" cy="273.5" r="3.45" fill="#000"/>
<circle cx="254.2" cy="223.4" r="3.45" fill="#000"/>
<circle cx="254.2" cy="228.5" r="3.45" fill="#000"/>
<circle cx="254.7" cy="243.6" r="3.45" fill="#000"/>
<circle cx="254.7" cy="266.7" r="3.45" fill="#000"/>
<circle cx="351" cy="152.8" r="3.45" fill="#000"/>
<circle cx="350.6" cy="233.7" r="3.45" fill="#000"/>
<circle cx="350.6" cy="252.7" r="3.45" fill="#000"/>
<circle cx="350.6" cy="273.3" r="3.45" fill="#000"/>
<circle cx="350.6" cy="277.9" r="3.45" fill="#000"/>
<circle cx="466.8" cy="106.4" r="3.45" fill="#000"/>
<circle cx="466.8" cy="110.6" r="3.45" fill="#000"/>
<circle cx="466.8" cy="137.4" r="3.45" fill="#000"/>
<circle cx="466.8" cy="141.8" r="3.45" fill="#000"/>
<circle cx="466.8" cy="176.8" r="3.45" fill="#000"/>
<path d="M183,297.6H233.2M157,345.1H233.2" stroke="#000" stroke-width="1.7"/>
<path d="M223.7,305V338" stroke="#000" stroke-width="1.7"/>
<path d="M223.7,298.6 L230,315.6 L223.7,311 L217.4,315.6Z" fill="#000"/>
<path d="M223.7,343.8 L230,326.8 L223.7,331.4 L217.4,326.8Z" fill="#000"/>
<path d="M402.80,169.89L420.00,202.50" stroke="#000" stroke-width="1.9"/><path d="M397.90,160.60L410.26,171.60L402.80,169.89L400.00,177.02Z" fill="#000"/>
</svg>
</body></html>
